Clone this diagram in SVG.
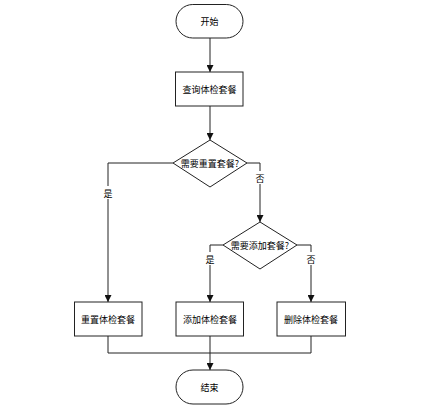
<svg xmlns="http://www.w3.org/2000/svg" width="438" height="417" viewBox="0 0 438 417">
<style>
.n{fill:#fff;stroke:#222;stroke-width:1}
.t{font-family:"Noto Sans CJK SC","Liberation Sans",sans-serif;font-size:9px;fill:#000;text-anchor:middle;dominant-baseline:central}
.c{fill:none;stroke:#222;stroke-width:1}
</style>
<defs>
<marker id="a" viewBox="0 0 10 10" refX="10" refY="5" markerWidth="7" markerHeight="7" orient="auto" markerUnits="userSpaceOnUse">
<path d="M0,0 L10,5 L0,10 z" fill="#111"/>
</marker>
</defs>
<rect width="438" height="417" fill="#fff"/>
<g id="connectors">
<path class="c" d="M210,38 V72" marker-end="url(#a)"/>
<path class="c" d="M210,106 V140" marker-end="url(#a)"/>
<path class="c" d="M173,163 H108 V302" marker-end="url(#a)"/>
<path class="c" d="M247,163 H260 V222" marker-end="url(#a)"/>
<path class="c" d="M223,245 H210 V302" marker-end="url(#a)"/>
<path class="c" d="M297,245 H311 V302" marker-end="url(#a)"/>
<path class="c" d="M108,336 V353 H311 V336"/>
<path class="c" d="M210,336 V370" marker-end="url(#a)"/>
<rect x="102" y="186" width="12" height="13" fill="#fff"/>
<text class="t" x="108" y="193">是</text>
<rect x="254" y="171" width="12" height="13" fill="#fff"/>
<text class="t" x="260" y="178">否</text>
<rect x="204" y="252" width="12" height="13" fill="#fff"/>
<text class="t" x="210" y="259">是</text>
<rect x="305" y="252" width="12" height="13" fill="#fff"/>
<text class="t" x="311" y="259">否</text>
</g>
<g id="start">
<rect class="n" x="176" y="4.5" width="67" height="33.5" rx="16.75"/>
<text class="t" x="209.5" y="21">开始</text>
</g>
<g id="query">
<rect class="n" x="175.5" y="72" width="67.5" height="34"/>
<text class="t" x="209.5" y="89">查询体检套餐</text>
</g>
<g id="d1">
<polygon class="n" points="210,140 247,163 210,187 173,163"/>
<text class="t" x="210" y="163.5">需要重置套餐?</text>
</g>
<g id="d2">
<polygon class="n" points="260,222 297,245 260,269 223,245"/>
<text class="t" x="260" y="245.5">需要添加套餐?</text>
</g>
<g id="reset">
<rect class="n" x="74.5" y="302" width="67.5" height="34"/>
<text class="t" x="108" y="319">重置体检套餐</text>
</g>
<g id="add">
<rect class="n" x="176" y="302" width="67.5" height="34"/>
<text class="t" x="210" y="319">添加体检套餐</text>
</g>
<g id="del">
<rect class="n" x="277" y="302" width="68.5" height="34"/>
<text class="t" x="311" y="319">删除体检套餐</text>
</g>
<g id="end">
<rect class="n" x="176" y="370" width="67" height="34" rx="17"/>
<text class="t" x="209.5" y="387">结束</text>
</g>
</svg>
